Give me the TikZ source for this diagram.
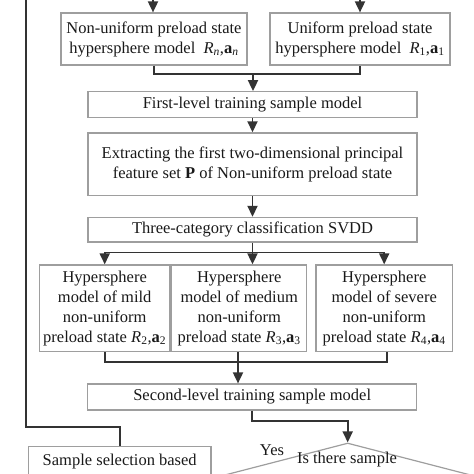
\documentclass[tikz,border=0pt]{standalone}
\usepackage{fontspec}
\setmainfont{Liberation Serif}
\usepackage{tikz}
\usetikzlibrary{arrows.meta,positioning,shapes.geometric}
\definecolor{boxgray}{gray}{0.62}
\definecolor{linegray}{gray}{0.2}
\tikzset{
    %Define standard arrow tip
    >={Triangle[length=11pt,width=10pt]},
    %Define style for boxes
    steprect/.style={
           rectangle,
           draw=boxgray, line width=1.2pt,
           inner sep=0pt,
           font=\fontsize{16.5}{20}\selectfont,
           align=center,
           text=black!90
           },
    checkdia/.style={
           diamond,
           draw=boxgray, line width=1.2pt,
           minimum width=308pt,
           minimum height=80pt,
           inner sep=0pt
           },
    plaintext/.style={
           inner sep=0pt,
           font=\fontsize{16.5}{20}\selectfont,
           text=black!90
           },
    % Define connector styles
    link/.style={
           draw=linegray,
           line width=1.8pt},
    flow/.style={
           link, ->}
}

\begin{document}
\begin{tikzpicture}[x=1pt,y=-1pt,node distance=14pt]
\useasboundingbox (0,0) rectangle (474,474);
\clip (0,0) rectangle (474,474);
\node[steprect, minimum width=186pt, minimum height=52pt](1) at (154,39){Non-uniform preload state\\hypersphere model~~\textit{R}\textsubscript{\textit{n}},\textbf{a}\textsubscript{\textit{n}}};
\node[steprect, minimum width=180pt, minimum height=52pt](2) at (360,39){Uniform preload state\\hypersphere model~~\textit{R}\textsubscript{1},\textbf{a}\textsubscript{1}};
\node[steprect, minimum width=329pt, minimum height=26pt](3) at (252.5,104.7){First-level training sample model};
\node[steprect, minimum width=329pt, minimum height=62.6pt, below=of 3](4){Extracting the first two-dimensional principal\\feature set \textbf{P} of Non-uniform preload state};
\node[steprect, minimum width=329pt, minimum height=24.5pt, below=20.7pt of 4](5){Three-category classification SVDD};
\node[steprect, minimum width=130.7pt, minimum height=86.7pt](6) at (104.7,308.3){Hypersphere\\model of mild\\non-uniform\\preload state \textit{R}\textsubscript{2},\textbf{a}\textsubscript{2}};
\node[steprect, minimum width=135pt, minimum height=86.7pt](7) at (239.2,308.3){Hypersphere\\model of medium\\non-uniform\\preload state \textit{R}\textsubscript{3},\textbf{a}\textsubscript{3}};
\node[steprect, minimum width=136.3pt, minimum height=86.7pt](8) at (384.2,308.3){Hypersphere\\model of severe\\non-uniform\\preload state \textit{R}\textsubscript{4},\textbf{a}\textsubscript{4}};
\node[steprect, minimum width=329pt, minimum height=26pt](9) at (252.2,397){Second-level training sample model};
\node[checkdia](10) at (347.7,483){};
\node[plaintext](11) at (347,460){Is there sample};
\node[plaintext](12) at (272,450){Yes};
\node[steprect, minimum width=182.7pt, anchor=north, inner ysep=7pt, text height=12pt, text depth=40pt](13) at (119.7,446){Sample selection based};
% free ends and joints
\coordinate (in1) at (153,-20);
\coordinate (in2) at (360,-20);
\coordinate (back) at (25.7,-20);
\coordinate (j1) at (253,74);
\coordinate (j3) at (238,362);
\draw[flow] (in1) -- (in1 |- 1.north);
\draw[flow] (in2) -- (in2 |- 2.north);
\draw[link] (1.south) |- (j1) -| (2.south);
\draw[flow] (j1) -- (j1 |- 3.north);
\draw[flow] (3) -- (4);
\draw[flow] (4) -- (5);
\draw[link] (5.south) -- ++(0,10) coordinate (j2);
\draw[flow] (j2) -| (6.north);
\draw[flow] (j2) -- (j2 |- 7.north);
\draw[flow] (j2) -| (8.north);
\draw[link] (6.south) |- (j3) -| ([xshift=3pt]8.south);
\draw[link] ([xshift=-1.2pt]7.south) -- (j3);
\draw[flow] (j3) -- (j3 |- 9.north);
\draw[flow] (9.south) -- ++(0,10) -| (10.north);
\draw[link] (13.north) -- ++(0,-19.3) -| (back);
\end{tikzpicture}
\end{document}
